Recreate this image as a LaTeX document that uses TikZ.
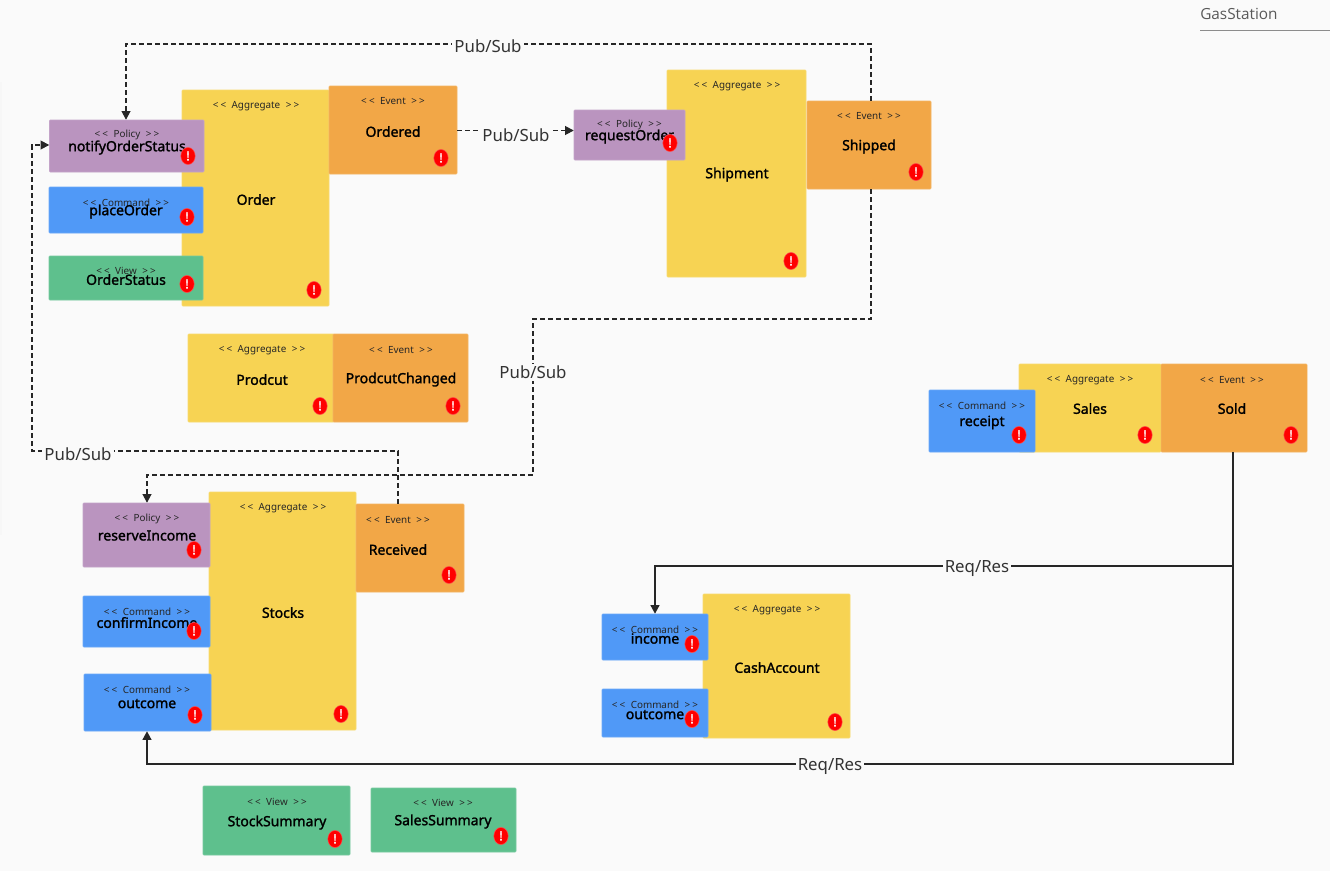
\documentclass[tikz,border=0pt]{standalone}
\usepackage{fontspec}
\setmainfont{Noto Sans}
\newfontfamily\labelfont{Noto Sans}[FakeBold=1.6]
\newfontfamily\titlefont{Open Sans}
\usetikzlibrary{arrows.meta,fit,shapes.geometric}
\definecolor{bgGray}{RGB}{250,250,250}
\definecolor{aggCol}{RGB}{247,211,83}
\definecolor{evtCol}{RGB}{242,167,71}
\definecolor{polCol}{RGB}{186,148,191}
\definecolor{cmdCol}{RGB}{80,153,247}
\definecolor{viewCol}{RGB}{94,192,141}
\tikzset{
  box/.style = {rectangle, inner sep = 0pt, rounded corners = 0.6pt, line width = 0.4pt},
  aggregate/.style = {box, fill = aggCol, draw = aggCol!85!white},
  event/.style = {box, fill = evtCol, draw = evtCol!85!white},
  policy/.style = {box, fill = polCol, draw = polCol!85!white},
  command/.style = {box, fill = cmdCol, draw = cmdCol!85!white},
  view/.style = {box, fill = viewCol, draw = viewCol!85!white},
  stereo/.style = {inner sep = 0pt, yshift = -1pt, text = black!85, font = \fontsize{7.4}{8}\selectfont},
  title/.style = {inner sep = 0pt, yshift = -0.4pt, text = black, font = \labelfont\fontsize{10.5}{12}\selectfont},
  warn/.style = {ellipse, fill = red, draw = red!70!white, line width = 0.4pt, inner sep = 0pt,
    minimum width = 10.8pt, minimum height = 12.8pt, text = white,
    font = \labelfont\fontsize{9.5}{10}\selectfont},
  pubsub/.style = {draw = black!85, line width = 0.8pt, dash pattern = on 3.6pt off 2.4pt},
  reqres/.style = {draw = black!85, line width = 1.1pt},
  head/.style = {-{Triangle[length = 6.4pt, width = 6.6pt]}},
  link/.style = {inner sep = 1.5pt, fill = bgGray, text = black!80, font = \fontsize{12.6}{14}\selectfont}
}
% name, style, kind, corner, corner, kind text pos, title pos, title, warning pos
\newcommand{\card}[9]{
  \node [#2, fit = {#4 #5}] (#1) {};
  \node [stereo] (#1-s) at #6 {<\kern1.6pt<\hspace{2.2pt} #3 \hspace{2.2pt}>\kern1.6pt>};
  \node [title] (#1-t) at #7 {#8};
  \node [warn] (#1-w) at #9 {!};
}
\begin{document}
\begin{tikzpicture}[x = 0.75pt, y = -0.75pt]
  \useasboundingbox [fill = bgGray] (0, 0) rectangle (1330, 871);
  % faint panel edge on the left
  \fill [black!3] (0, 82) rectangle (2, 535);

  % top left group
  \card{order}{aggregate}{Aggregate}{(182,90)}{(329,306)}{(256,104.5)}{(256,199)}{Order}{(314,290)}
  \card{notify}{policy}{Policy}{(49.5,120)}{(204,172)}{(127,134)}{(127,147)}{notifyOrderStatus}{(188,156)}
  \card{placeorder}{command}{Command}{(49,187)}{(203,233)}{(126,201)}{(126,211)}{placeOrder}{(187,217)}
  \card{orderstatus}{view}{View}{(49,256)}{(203,300)}{(126,270)}{(126,279)}{OrderStatus}{(187,284)}
  \card{ordered}{event}{Event}{(329,86)}{(457,174)}{(393,100)}{(393,131)}{Ordered}{(441,158)}

  % shipment
  \card{shipment}{aggregate}{Aggregate}{(667,70)}{(806,277)}{(737,84.5)}{(737,174)}{Shipment}{(791,261)}
  \card{requestorder}{policy}{Policy}{(574,110)}{(685,160)}{(629.5,124)}{(629.5,136)}{requestOrder}{(670,143)}
  \card{shipped}{event}{Event}{(807,101)}{(931,189)}{(869,115)}{(869,146)}{Shipped}{(916,172)}

  % product
  \card{prodcut}{aggregate}{Aggregate}{(188,334)}{(334,422)}{(262,349)}{(262,379)}{Prodcut}{(320,406)}
  \card{prodcutchanged}{event}{Event}{(333,334)}{(468,422)}{(401,349)}{(401,379)}{ProdcutChanged}{(453,406)}

  % sales
  \card{sales}{aggregate}{Aggregate}{(1019,364)}{(1161,452)}{(1090,379)}{(1090,408)}{Sales}{(1145,435)}
  \card{sold}{event}{Event}{(1161,364)}{(1307,452)}{(1232,379)}{(1232,408)}{Sold}{(1291,435)}
  \card{receipt}{command}{Command}{(929,390)}{(1035,452)}{(982,404.5)}{(982,422)}{receipt}{(1019,435)}

  % stocks
  \card{stocks}{aggregate}{Aggregate}{(209,492)}{(356,730)}{(283,506.5)}{(283,612)}{Stocks}{(341,714)}
  \card{reserveincome}{policy}{Policy}{(83,503)}{(210,567)}{(147,517.5)}{(147,535)}{reserveIncome}{(194,550)}
  \card{confirmincome}{command}{Command}{(83,596)}{(210,647)}{(147,610.5)}{(147,622)}{confirmIncome}{(194,631)}
  \card{outcome}{command}{Command}{(84,674)}{(211,731)}{(147,688.5)}{(147,703)}{outcome}{(195,715)}
  \card{received}{event}{Event}{(356,504)}{(464,592)}{(398,518.5)}{(398,549)}{Received}{(449,575)}

  % cash account
  \card{cashaccount}{aggregate}{Aggregate}{(703,594)}{(850,738)}{(777,608.5)}{(777,667)}{CashAccount}{(835,722)}
  \card{income}{command}{Command}{(602,614)}{(708,660)}{(655,628.5)}{(655,638)}{income}{(692,644)}
  \card{outcomeb}{command}{Command}{(602,689)}{(708,737)}{(655,703.5)}{(655,714)}{outcome}{(692,719)}

  % views
  \card{stocksummary}{view}{View}{(203,786)}{(350,855)}{(277,801)}{(277,822)}{StockSummary}{(335,839)}
  \card{salessummary}{view}{View}{(371,788)}{(516,852)}{(443,802)}{(443,821)}{SalesSummary}{(501,836)}

  % route corners
  \coordinate (a1) at (871, 44);
  \coordinate (a2) at (126, 44);
  \coordinate (b1) at (871, 319);
  \coordinate (b2) at (533, 319);
  \coordinate (b3) at (533, 475);
  \coordinate (b4) at (147, 475);
  \coordinate (c1) at (398, 451);
  \coordinate (c2) at (32, 451);
  \coordinate (c3) at (32, 145);
  \coordinate (d1) at (1233, 566);
  \coordinate (d2) at (655, 566);
  \coordinate (e1) at (1233, 764);
  \coordinate (e2) at (147, 764);

  % pub/sub
  \draw [pubsub, head] (a1 |- shipped.north) -- (a1) -- (a2) -- (a2 |- notify.north);
  \draw [pubsub, head] (ordered.east |- 0, 130.5) -- (requestorder.west |- 0, 130.5);
  \draw [pubsub, head] (b1 |- shipped.south) -- (b1) -- (b2) -- (b3) -- (b4) -- (b4 |- reserveincome.north);
  \draw [pubsub, head] (c1 |- received.north) -- (c1) -- (c2) -- (c3) -- (c3 -| notify.west);
  % req/res
  \draw [reqres, head] (d1 |- sold.south) -- (d1) -- (d2) -- (d2 |- income.north);
  \draw [reqres, head] (e1 |- sold.south) -- (e1) -- (e2) -- (e2 |- outcome.south);

  \node [link] (l1) at (488, 46.5) {Pub/Sub};
  \node [link] (l2) at (516, 135.5) {Pub/Sub};
  \node [link] (l3) at (533, 372.5) {Pub/Sub};
  \node [link] (l4) at (78, 454.5) {Pub/Sub};
  \node [link] (l5) at (977, 568.5) {Req/Res};
  \node [link] (l6) at (830, 766.5) {Req/Res};

  % title
  \node [inner sep = 0pt, anchor = west, text = black!65, font = \titlefont\fontsize{11.5}{13}\selectfont] (gas) at (1200, 14) {GasStation};
  \coordinate (gasend) at (1330, 30.5);
  \draw [black!45, line width = 0.7pt] (gasend -| gas.west) -- (gasend);
\end{tikzpicture}
\end{document}
